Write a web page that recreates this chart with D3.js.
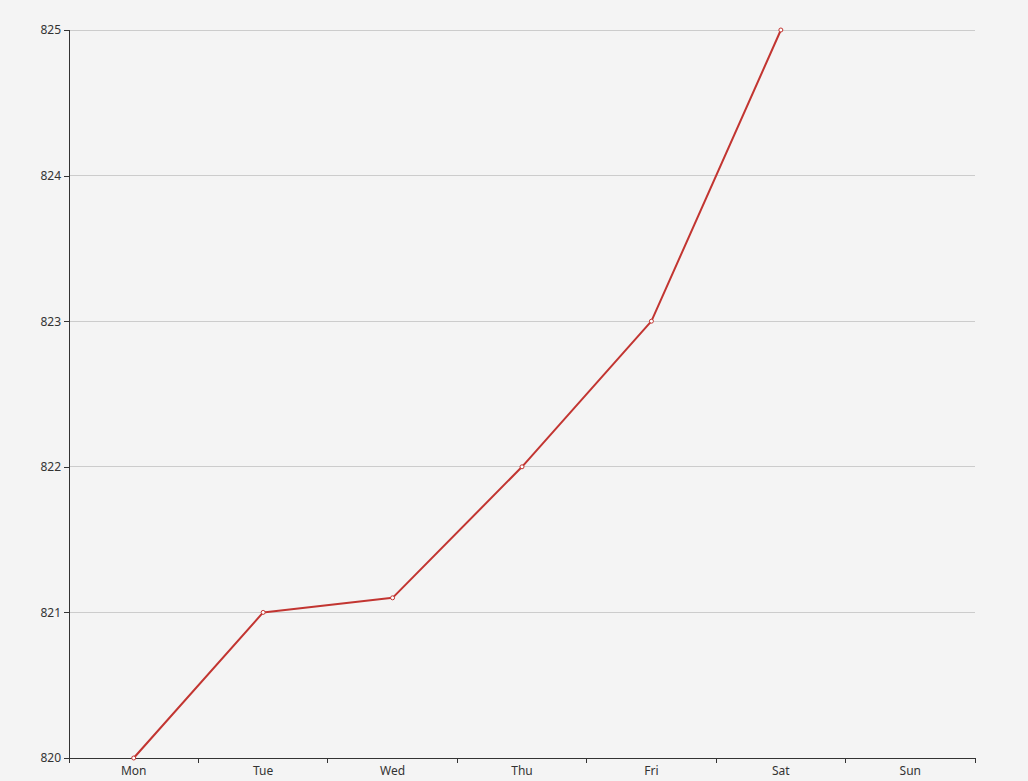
<!DOCTYPE html>
<html><head><meta charset="utf-8">
<script src="https://cdn.jsdelivr.net/npm/d3@7/dist/d3.min.js"></script>
<style>html,body{margin:0;padding:0;background:#f4f4f4;}svg{display:block;}</style>
</head><body>
<svg id="c" width="1028" height="781"></svg>
<script>
const categories = ["Mon","Tue","Wed","Thu","Fri","Sat","Sun"];
const values = [820, 821, 821.1, 822, 823, 825, null];
const yTicks = [820, 821, 822, 823, 824, 825];

const W = 1028, H = 781;
const m = {left: 69, right: 53, top: 30, bottom: 23};
const svg = d3.select("#c");
svg.append("rect").attr("width", W).attr("height", H).attr("fill", "#f4f4f4");

const x = d3.scaleBand().domain(categories).range([m.left, W - m.right]);
const y = d3.scaleLinear().domain([820, 825]).range([H - m.bottom, m.top]);
const font = "'Microsoft YaHei','Noto Sans','DejaVu Sans',sans-serif";

// grid
svg.append("g").selectAll("line").data(yTicks.filter(t => t !== 820)).join("line")
  .attr("x1", m.left).attr("x2", W - m.right)
  .attr("y1", d => y(d)).attr("y2", d => y(d))
  .attr("stroke", "#ccc").attr("stroke-width", 1).attr("shape-rendering", "crispEdges");

// y axis
const ya = svg.append("g").attr("transform", `translate(${m.left},0)`)
  .call(d3.axisLeft(y).tickValues(yTicks).tickSize(5).tickPadding(3).tickFormat(d3.format("d")));
ya.select(".domain").attr("stroke", "#333").attr("shape-rendering", "crispEdges");
ya.selectAll(".tick line").attr("stroke", "#333").attr("shape-rendering", "crispEdges");
ya.selectAll("text").attr("fill", "#333").attr("font-size", 12).attr("font-family", font);

// x axis
const xa = svg.append("g").attr("transform", `translate(0,${H - m.bottom})`)
  .call(d3.axisBottom(x).tickSize(0).tickPadding(8));
xa.select(".domain").attr("stroke", "#333").attr("shape-rendering", "crispEdges");
xa.selectAll("text").attr("fill", "#333").attr("font-size", 12).attr("font-family", font);
// boundary ticks
const bounds = categories.map(c => x(c)).concat([x(categories[categories.length-1]) + x.bandwidth()]);
xa.append("g").selectAll("line").data(bounds).join("line")
  .attr("x1", d => d).attr("x2", d => d).attr("y1", 0).attr("y2", 5)
  .attr("stroke", "#333").attr("shape-rendering", "crispEdges");

// line
const pts = categories.map((c, i) => ({c, v: values[i]})).filter(d => d.v != null);
const cx = d => x(d.c) + x.bandwidth() / 2;
svg.append("path").datum(pts)
  .attr("d", d3.line().x(cx).y(d => y(d.v)))
  .attr("fill", "none").attr("stroke", "#c23531").attr("stroke-width", 2).attr("stroke-linejoin", "bevel");
svg.append("g").selectAll("circle").data(pts).join("circle")
  .attr("cx", cx).attr("cy", d => y(d.v)).attr("r", 2)
  .attr("fill", "#fff").attr("stroke", "#c23531").attr("stroke-width", 1);
</script>
</body></html>
